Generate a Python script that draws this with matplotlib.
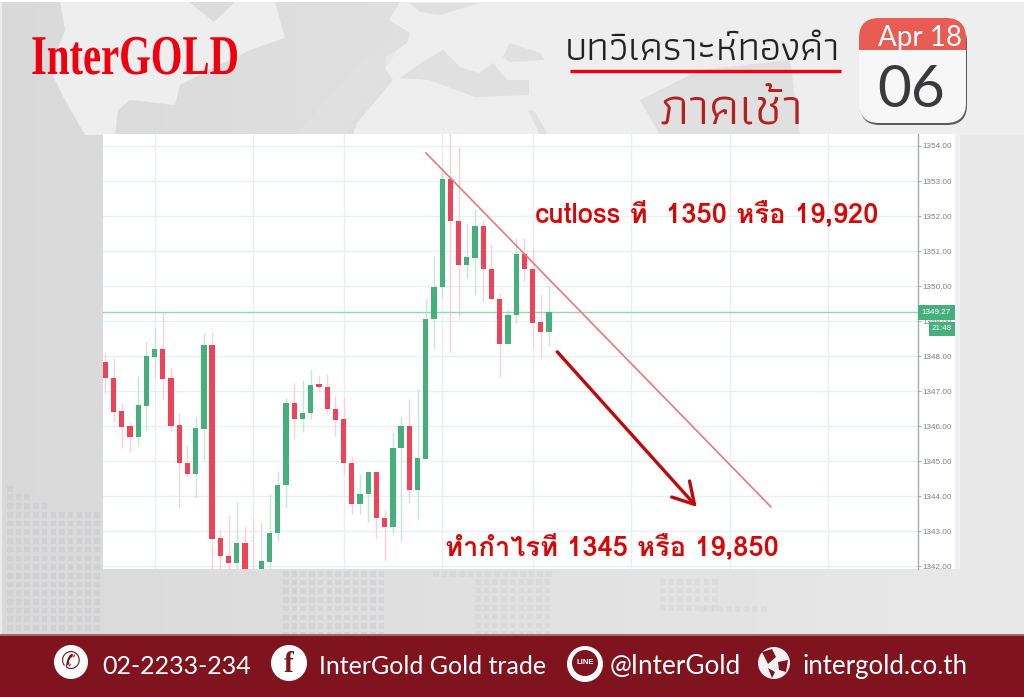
import numpy as np
import matplotlib
matplotlib.use("Agg")
import matplotlib.pyplot as plt
from matplotlib.patches import Circle, Ellipse, FancyBboxPatch, Polygon, Rectangle
from matplotlib.patheffects import AbstractPathEffect
from matplotlib.transforms import Affine2D, Bbox

# candles, left to right
opens = [1347.84, 1347.37, 1346.43, 1346.00, 1345.69, 1346.57, 1347.97, 1348.21, 1347.37, 1346.03, 1344.95,
         1344.63, 1345.92, 1348.31, 1342.79, 1342.30, 1342.08, 1342.65, 1341.85, 1341.70, 1342.12, 1342.93,
         1344.31, 1346.67, 1346.20, 1346.36, 1347.19, 1347.12, 1346.50, 1346.19, 1344.95, 1343.77, 1344.05,
         1344.68, 1343.38, 1343.12, 1345.36, 1346.00, 1344.17, 1345.06, 1349.06, 1349.97, 1353.07, 1351.87,
         1350.60, 1350.81, 1351.71, 1350.50, 1349.64, 1348.35, 1349.16, 1350.92, 1350.50, 1348.97, 1348.70]
closes = [1347.36, 1346.41, 1345.98, 1345.68, 1346.59, 1347.99, 1348.21, 1347.35, 1346.00, 1344.93, 1344.62,
          1345.94, 1348.31, 1342.77, 1342.29, 1342.08, 1342.65, 1341.80, 1341.40, 1342.14, 1342.95, 1344.32,
          1346.67, 1346.20, 1346.38, 1347.18, 1347.11, 1346.50, 1346.17, 1344.93, 1343.77, 1344.06, 1344.68,
          1343.36, 1343.12, 1345.38, 1346.00, 1344.17, 1345.08, 1349.07, 1349.98, 1353.07, 1351.87, 1350.60,
          1350.83, 1351.71, 1350.49, 1349.62, 1348.35, 1349.17, 1350.92, 1350.49, 1348.95, 1348.70, 1349.25]
highs = [1348.08, 1347.93, 1346.65, 1346.12, 1347.44, 1348.41, 1348.84, 1349.27, 1347.68, 1346.36, 1345.46,
         1346.27, 1348.67, 1348.70, 1343.05, 1343.46, 1343.84, 1343.14, 1343.36, 1343.22, 1344.06, 1344.72,
         1346.79, 1347.24, 1347.31, 1347.62, 1347.45, 1347.49, 1346.86, 1346.81, 1345.12, 1344.63, 1344.70,
         1344.70, 1343.60, 1345.84, 1346.29, 1346.78, 1347.05, 1349.65, 1350.86, 1353.39, 1354.50, 1353.97,
         1351.81, 1352.19, 1351.90, 1351.19, 1349.79, 1349.33, 1351.36, 1351.36, 1351.10, 1349.77, 1350.00]
lows = [1346.93, 1346.12, 1345.38, 1345.27, 1345.46, 1345.90, 1347.36, 1346.74, 1345.87, 1343.65, 1344.55,
        1343.93, 1345.03, 1341.80, 1341.80, 1341.80, 1341.70, 1341.60, 1341.20, 1341.50, 1341.89, 1342.72,
        1343.65, 1345.64, 1345.84, 1346.19, 1346.98, 1346.33, 1345.71, 1344.60, 1343.50, 1343.50, 1343.27,
        1342.79, 1342.17, 1342.91, 1342.72, 1343.79, 1343.33, 1345.06, 1348.19, 1349.70, 1348.11, 1349.12,
        1350.24, 1349.74, 1349.55, 1349.62, 1347.39, 1348.35, 1348.93, 1350.14, 1348.27, 1347.93, 1348.30]
price_ticks = list(range(1342, 1355))
time_grid = [6, 18, 29, 41, 52, 64, 76, 88]
last_price = 1349.27
countdown = "21:48"
resistance_x = [39.03, 81.0]
resistance_y = [1353.8, 1343.69]
target_from = (55.0, 1348.12)
target_to = (71.97, 1343.69)

W, H = 1024, 697
GREEN, RED = "#46b07c", "#ee4459"
NOTE = ["Loma", "DejaVu Sans"]
HEAD = ["Athiti", "DejaVu Sans"]


class Stretch(AbstractPathEffect):
    # tall letters in the logo, the text itself stays text
    def __init__(self, sy):
        super().__init__()
        self.sy = sy

    def draw_path(self, renderer, gc, tpath, affine, rgbFace=None):
        renderer.draw_path(gc, tpath, Affine2D().scale(1, self.sy) + affine, rgbFace)


def pixel_axes(z):
    a = fig.add_axes([0, 0, 1, 1], zorder=z)
    a.set_xlim(0, W)
    a.set_ylim(H, 0)
    a.axis("off")
    return a


fig = plt.figure(figsize=(W / 100, H / 100), dpi=100)
bg = pixel_axes(0)

# backdrop: grey sea, lighter land
shade = np.linspace(0.85, 0.91, 64).reshape(1, -1)
bg.imshow(shade, extent=(0, W, H, 0), cmap="gray", vmin=0, vmax=1, aspect="auto", interpolation="bilinear")
bg.set_xlim(0, W)
bg.set_ylim(H, 0)
land = [
    [(60, 2), (189, 2), (214, 22), (235, 2), (275, 2), (285, 38), (250, 50), (240, 55), (205, 72), (180, 85),
     (175, 105), (130, 100), (118, 110), (115, 135), (85, 135), (65, 100), (50, 70), (65, 30)],
    [(400, 2), (389, 20), (410, 33), (407, 43), (386, 57), (386, 70), (393, 80), (379, 97), (357, 123),
     (353, 135), (1024, 135), (1024, 2)],
]
seas = [
    [(400, 78), (421, 63), (443, 50), (460, 67), (479, 73), (493, 63), (507, 80), (529, 80), (529, 95),
     (475, 97), (448, 87), (429, 80)],
    [(503, 57), (510, 43), (540, 53), (545, 60), (510, 62)],
    [(528, 110), (535, 112), (548, 135), (540, 135)],
    [(410, 3), (480, 3), (440, 15), (420, 12)],
    [(640, 100), (700, 70), (790, 60), (800, 135), (660, 135)],
]
for pts in land:
    bg.add_patch(Polygon(pts, closed=True, color="#eeeeee", lw=0))
for pts in seas:
    bg.add_patch(Polygon(pts, closed=True, color="#e0e0e0", lw=0))
bg.add_patch(Polygon([(295, 135), (395, 25), (400, 45), (345, 135)], closed=True, color="#e2e2e2", alpha=0.6, lw=0))
bg.add_patch(Rectangle((0, 0), 2, H, color="#ececec", lw=0))
bg.add_patch(Rectangle((0, 0), W, 2, color="white", lw=0))
# dotted texture: x, y, columns, rows
for x0, y0, ncol, nrow, a in [(7, 486, 1, 1, 0.55), (7, 494, 3, 1, 0.55), (7, 503, 5, 1, 0.55), (7, 512, 11, 14, 0.55),
                              (283, 571, 12, 8, 0.45), (433, 571, 14, 1, 0.3), (475, 579, 9, 7, 0.3),
                              (660, 579, 7, 4, 0.25), (700, 606, 8, 1, 0.25)]:
    for r in range(nrow):
        for c in range(ncol):
            bg.add_patch(Rectangle((x0 + c * 8.7, y0 + r * 8.7), 5.6, 5.6, color="#cbcbce", alpha=a, lw=0))

# chart panel, the axis strip sits to the right of the plot
bg.add_patch(Rectangle((955, 134), 5, 435, color="#eef0f3", lw=0, zorder=3))
bg.add_patch(Rectangle((103, 134), 852, 435, color="white", lw=0, zorder=3))
ax = fig.add_axes([103 / W, 1 - 569 / H, 815 / W, 435 / H], zorder=1)
ax.patch.set_alpha(0)
ax.set_xlim((103 - 105.3) / 8.217, (918 - 105.3) / 8.217)
ax.set_ylim(1354 - (569 - 146) / 35, 1354 + 12 / 35)
for s in ["top", "left", "bottom"]:
    ax.spines[s].set_visible(False)
ax.spines["right"].set_color("#a9abae")
ax.spines["right"].set_linewidth(1.0)
ax.set_xticks(time_grid)
ax.tick_params(axis="x", length=0, labelbottom=False)
ax.yaxis.tick_right()
ax.set_yticks(price_ticks)
ax.set_yticklabels(["%.2f" % t for t in price_ticks], family="Liberation Sans", fontsize=5.9, color="#808285")
ax.tick_params(axis="y", length=2, width=0.7, color="#a9abae", pad=1.5)
ax.grid(True, color="#e7f0f6", lw=1.0)
ax.set_axisbelow(True)
clip = Bbox([[103, H - 569], [955, H - 134]])
for lab in ax.get_yticklabels():
    lab.set_clip_on(True)
    lab.set_clip_box(clip)

idx = np.arange(len(opens))
o, c, h, l = map(np.array, (opens, closes, highs, lows))
up = c >= o
ax.vlines(idx[up], l[up], h[up], color="#c6e7d5", lw=1.0, zorder=2)
ax.vlines(idx[~up], l[~up], h[~up], color="#fbd0d6", lw=1.0, zorder=2)
ax.bar(idx[up], (c - o)[up], bottom=o[up], width=0.64, color=GREEN, zorder=3)
ax.bar(idx[~up], (c - o)[~up], bottom=o[~up], width=0.64, color=RED, zorder=3)

ax.axhline(last_price, color="#93d6b1", lw=1.0, zorder=2.5)
ax.plot(resistance_x, resistance_y, color="#e67a7a", lw=1.2, zorder=4)
ax.annotate("", xy=target_to, xytext=target_from, zorder=5,
            arrowprops=dict(arrowstyle="->,head_length=0.62,head_width=0.36", color="#c00a0a", lw=2.4,
                            mutation_scale=24, shrinkA=0, shrinkB=0))

ov = pixel_axes(5)

# price tags on the axis
ov.add_patch(Rectangle((918, 305), 37, 15, color=GREEN, lw=0))
ov.text(936.5, 312.7, "%.2f" % last_price, color="white", fontsize=5.9, family="Liberation Sans", ha="center", va="center")
ov.add_patch(Rectangle((929, 322), 26, 14, color=GREEN, lw=0))
ov.text(942, 329, countdown, color="white", fontsize=5.9, family="Liberation Sans", ha="center", va="center")

# chart notes
ov.text(535, 222, "cutloss ที  1350 หรือ 19,920", color="#d90606", fontsize=19.7, weight="bold", family=NOTE, va="baseline")
ov.text(445, 555, "ทำกำไรที 1345 หรือ 19,850", color="#d90606", fontsize=19.6, weight="bold", family=NOTE, va="baseline")

# header
ov.text(31, 74, "InterGOLD", color="#f0000e", fontsize=29.3, weight="bold", family="Liberation Serif", va="baseline",
        path_effects=[Stretch(1.38)])
ov.text(840, 60, "บทวิเคราะห์ทองคำ", color="#222222", fontsize=29, family=HEAD, ha="right", va="baseline")
ov.plot([570, 841], [71, 71], color="#f0000e", lw=2.4, solid_capstyle="butt")
ov.text(803, 123, "ภาคเช้า", color="#b5201f", fontsize=38, family=HEAD, ha="right", va="baseline")

# calendar
ov.add_patch(FancyBboxPatch((860, 22), 107, 103, boxstyle="round,pad=0,rounding_size=20", color="#5a5a5d", lw=0))
page = FancyBboxPatch((859, 18), 107, 105, boxstyle="round,pad=0,rounding_size=20", fc="#f7f7f7", ec="none")
ov.add_patch(page)
top = Rectangle((859, 18), 107, 32, color="#e95c53", lw=0)
ov.add_patch(top)
top.set_clip_path(page)
ov.text(920, 46, "Apr 18", color="white", fontsize=20, family="Lato", ha="center", va="baseline")
ov.text(911, 107, "06", color="#3a3a3c", fontsize=42, family="Lato", ha="center", va="baseline")

# footer
ov.add_patch(Rectangle((0, 635), W, 62, color="#7f141f", lw=0))
ov.add_patch(Rectangle((0, 634), W, 1.5, color="#a8666c", lw=0))
ov.add_patch(Circle((71, 662), 17, color="white", lw=0))
ov.text(71, 662, "\u2706", color="#7f141f", fontsize=17, family="DejaVu Sans", ha="center", va="center")
ov.add_patch(Ellipse((289, 663), 36, 36, color="white", lw=0))
ov.text(289, 664, "f", color="#7f141f", fontsize=21, weight="bold", family="Liberation Serif", ha="center", va="center")
ov.add_patch(Circle((585, 664), 18, color="white", lw=0))
ov.add_patch(Circle((585, 663), 13, color="#7f141f", lw=0))
ov.text(585, 663, "LINE", color="white", fontsize=5.6, weight="bold", family="Liberation Sans", ha="center", va="center")
ov.add_patch(Circle((774, 663), 16, color="#f2f2f2", lw=0))
for pts in [[(762, 652), (772, 649), (776, 657), (768, 664)], [(778, 662), (788, 660), (786, 672), (779, 670)],
            [(768, 668), (775, 672), (772, 678)]]:
    ov.add_patch(Polygon(pts, closed=True, color="#7f141f", lw=0))
for x, s, size in [(102, "02-2233-234", 18), (319, "InterGold Gold trade", 18), (610, "@InterGold", 18.8),
                   (802, "intergold.co.th", 18.6)]:
    ov.text(x, 674, s, color="white", fontsize=size, family="Lato", va="baseline")

fig.savefig("out.png", dpi=100)
